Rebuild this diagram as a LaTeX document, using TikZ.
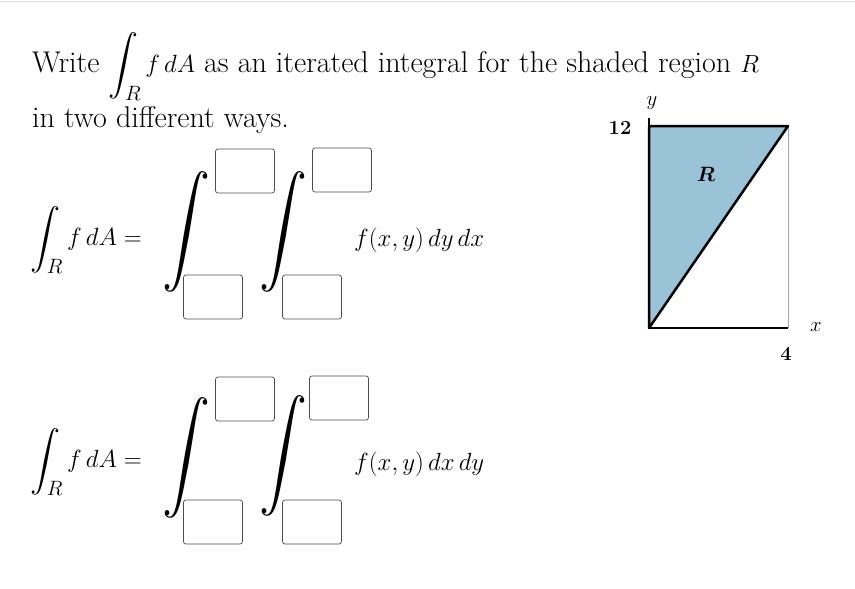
\documentclass[tikz,border=0pt]{standalone}
\usepackage{graphicx}
\usepackage{amsmath,amssymb,bm}
\begin{document}
\begin{tikzpicture}[x=1pt,y=-1pt,
  blank/.style={draw=black!70,rounded corners=2.5pt,minimum width=59pt,minimum height=44pt,inner sep=0pt,line width=0.7pt},
  txt/.style={font=\fontsize{30}{35}\selectfont,inner sep=0pt},
  lbl/.style={font=\fontsize{20}{24}\selectfont}]
\useasboundingbox (0,0) rectangle (855,589);
\draw[black!12] (0,1) -- (855,1);
\node[txt,anchor=base west] (title) at (32,72) {Write $\displaystyle\int_R f\,dA$ as an iterated integral for the shaded region $R$};
\node[txt,anchor=base west] (ways) at (32,127) {in two different ways.};
% row 1
\node[txt,anchor=west] (lhs1) at (30,240) {$\displaystyle\int_R f\,dA =$};
\node (int1) at (186,232) {\resizebox{48pt}{74pt}{$\displaystyle\int$}};
\node (int2) at (283,232) {\resizebox{48pt}{74pt}{$\displaystyle\int$}};
\node[blank] (u1) at (245,171) {};
\node[blank] (l1) at (213,297) {};
\node[blank] (u2) at (342,170) {};
\node[blank] (l2) at (312,297) {};
\node[txt,anchor=west] (f1) at (354,240) {$f(x,y)\,dy\,dx$};
% row 2
\node[txt,anchor=west] (lhs2) at (30,462) {$\displaystyle\int_R f\,dA =$};
\node (int3) at (186,458) {\resizebox{48pt}{74pt}{$\displaystyle\int$}};
\node (int4) at (283,456) {\resizebox{48pt}{74pt}{$\displaystyle\int$}};
\node[blank] (u3) at (245,399) {};
\node[blank] (l3) at (213,522) {};
\node[blank] (u4) at (339,398) {};
\node[blank] (l4) at (312,522) {};
\node[txt,anchor=west] (f2) at (354,464) {$f(x,y)\,dx\,dy$};
% graph
\coordinate (O) at (649,328);
\coordinate (X) at (788,328);
\coordinate (Y) at (649,126);
\coordinate (XY) at (788,126);
\draw[black!35,line width=0.8pt] (X) -- (XY);
\fill[fill={rgb,255:red,155;green,195;blue,215}] (O) -- (Y) -- (XY) -- cycle;
\draw[line width=1.2pt] (X) -- (O) -- (649,118);
\draw[line width=2.5pt,line join=round] (O) -- (Y) -- (XY) -- cycle;
\node[lbl,font=\fontsize{20}{24}\selectfont\bfseries] (l12) at (620,128) {12};
\node[lbl,font=\fontsize{20}{24}\selectfont\bfseries] (l4x) at (786,354) {4};
\node[lbl] (ly) at (652,103) {$y$};
\node[lbl] (lx) at (816,327) {$x$};
\node[lbl] (lR) at (706,174) {$\bm{R}$};
\end{tikzpicture}
\end{document}
